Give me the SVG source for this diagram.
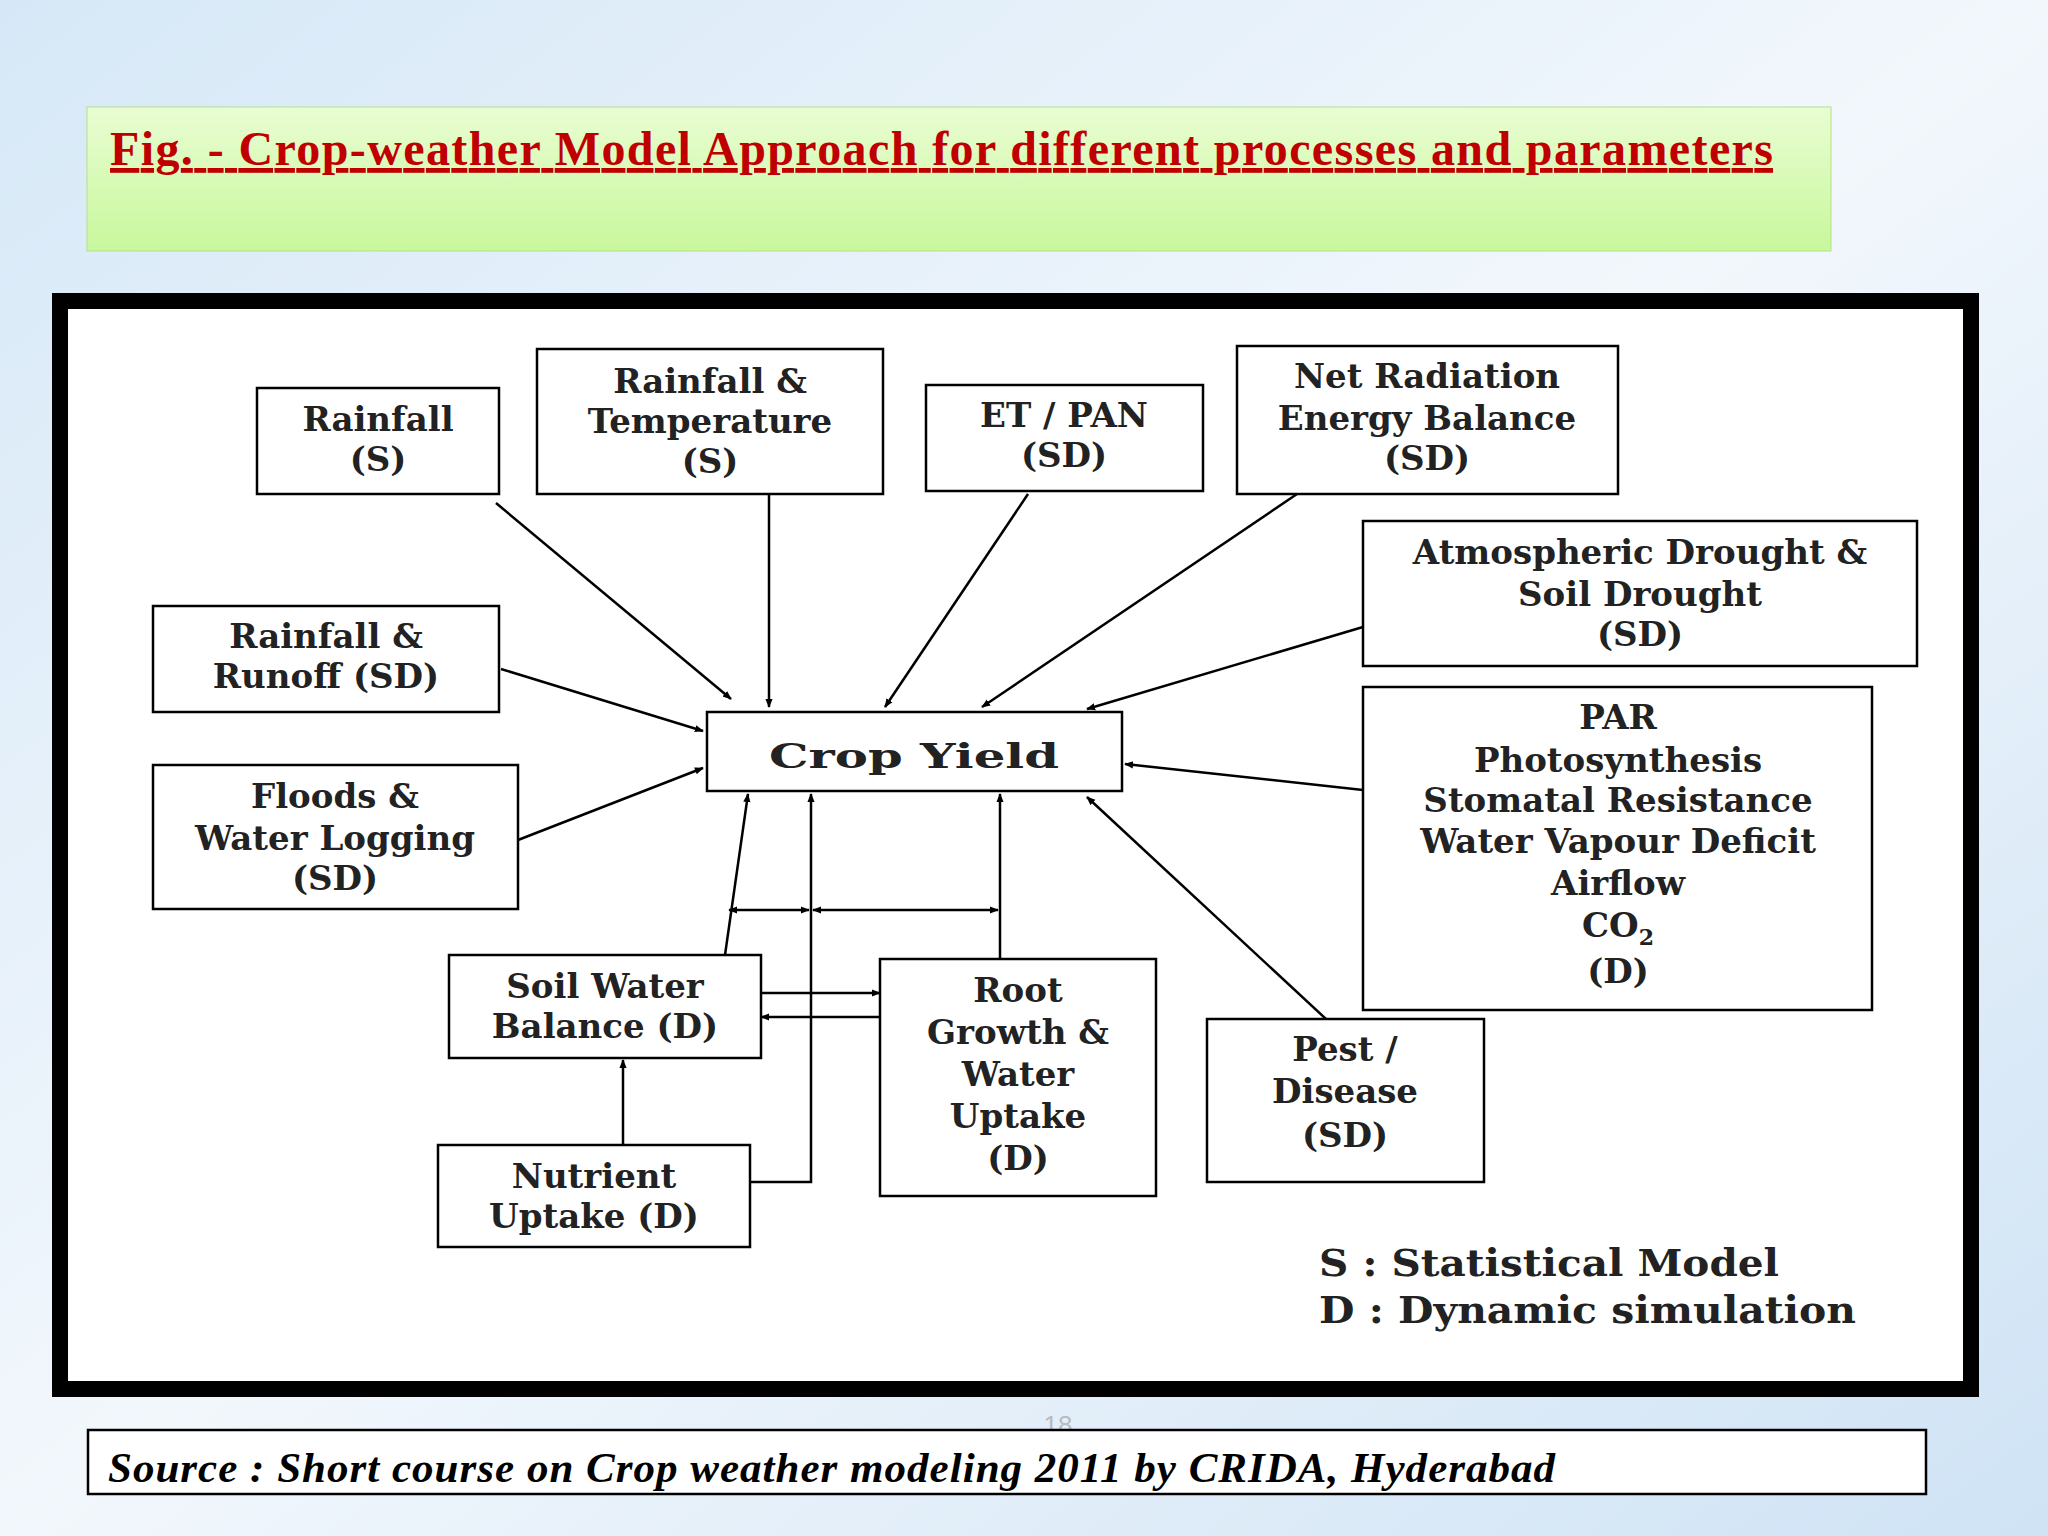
<svg xmlns="http://www.w3.org/2000/svg" width="2048" height="1536" viewBox="0 0 2048 1536">
<defs>
<linearGradient id="bg" x1="0" y1="0" x2="1" y2="1"><stop offset="0" stop-color="#d6e8f7"/><stop offset="0.5" stop-color="#f2f7fc"/><stop offset="1" stop-color="#cfe3f5"/></linearGradient>
<linearGradient id="tg" x1="0" y1="0" x2="0" y2="1"><stop offset="0" stop-color="#e9fdd2"/><stop offset="1" stop-color="#c8f79c"/></linearGradient>
<marker id="ah" viewBox="0 0 10 10" refX="9" refY="5" markerWidth="9" markerHeight="9" orient="auto-start-reverse" markerUnits="userSpaceOnUse"><path d="M0,1 L10,5 L0,9 Z" fill="#000"/></marker>
<style>
.n{fill:#fff;stroke:#000;stroke-width:2.5}
.t{font-family:"DejaVu Serif",serif;font-weight:bold;font-size:34px;text-anchor:middle;fill:#222}
.c line,.c polyline{stroke:#000;stroke-width:2.5;fill:none}
</style>
</defs>
<rect width="2048" height="1536" fill="url(#bg)"/>
<rect x="87" y="107" width="1744" height="144" fill="url(#tg)" stroke="#b5e08a"/>
<text x="110" y="165" font-family="Liberation Serif,serif" font-weight="bold" font-size="48" fill="#c00000" text-decoration="underline" textLength="1663" lengthAdjust="spacing">Fig. - Crop-weather Model Approach for different processes and  parameters</text>
<rect x="60" y="301" width="1911" height="1088" fill="#fff" stroke="#000" stroke-width="16"/>
<g id="rainfall"><rect class="n" x="257" y="388" width="242" height="106"/><text class="t" x="378" y="431">Rainfall</text><text class="t" x="378" y="471">(S)</text></g>
<g id="rt"><rect class="n" x="537" y="349" width="346" height="145"/><text class="t" x="710" y="393">Rainfall &amp;</text><text class="t" x="710" y="433">Temperature</text><text class="t" x="710" y="473">(S)</text></g>
<g id="et"><rect class="n" x="926" y="385" width="277" height="106"/><text class="t" x="1064" y="427">ET / PAN</text><text class="t" x="1064" y="467">(SD)</text></g>
<g id="net"><rect class="n" x="1237" y="346" width="381" height="148"/><text class="t" x="1427" y="388">Net Radiation</text><text class="t" x="1427" y="430">Energy Balance</text><text class="t" x="1427" y="470">(SD)</text></g>
<g id="atm"><rect class="n" x="1363" y="521" width="554" height="145"/><text class="t" x="1640" y="564">Atmospheric Drought &amp;</text><text class="t" x="1640" y="606">Soil Drought</text><text class="t" x="1640" y="646">(SD)</text></g>
<g id="runoff"><rect class="n" x="153" y="606" width="346" height="106"/><text class="t" x="326" y="648">Rainfall &amp;</text><text class="t" x="326" y="688">Runoff (SD)</text></g>
<g id="crop"><rect class="n" x="707" y="712" width="415" height="79" stroke-width="3"/><text class="t" x="914" y="768" font-size="56" textLength="290" lengthAdjust="spacingAndGlyphs">Crop Yield</text></g>
<g id="floods"><rect class="n" x="153" y="765" width="365" height="144"/><text class="t" x="335" y="808">Floods &amp;</text><text class="t" x="335" y="850">Water Logging</text><text class="t" x="335" y="890">(SD)</text></g>
<g id="par"><rect class="n" x="1363" y="687" width="509" height="323"/><text class="t" x="1618" y="729">PAR</text><text class="t" x="1618" y="772">Photosynthesis</text><text class="t" x="1618" y="812">Stomatal Resistance</text><text class="t" x="1618" y="853">Water Vapour Deficit</text><text class="t" x="1618" y="895">Airflow</text><text class="t" x="1618" y="937">CO<tspan font-size="22" dy="8">2</tspan></text><text class="t" x="1618" y="983">(D)</text></g>
<g id="swb"><rect class="n" x="449" y="955" width="312" height="103"/><text class="t" x="605" y="998">Soil Water</text><text class="t" x="605" y="1038">Balance (D)</text></g>
<g id="root"><rect class="n" x="880" y="959" width="276" height="237"/><text class="t" x="1018" y="1002">Root</text><text class="t" x="1018" y="1044">Growth &amp;</text><text class="t" x="1018" y="1086">Water</text><text class="t" x="1018" y="1128">Uptake</text><text class="t" x="1018" y="1170">(D)</text></g>
<g id="pest"><rect class="n" x="1207" y="1019" width="277" height="163"/><text class="t" x="1345" y="1061">Pest /</text><text class="t" x="1345" y="1103">Disease</text><text class="t" x="1345" y="1147">(SD)</text></g>
<g id="nutrient"><rect class="n" x="438" y="1145" width="312" height="102"/><text class="t" x="594" y="1188">Nutrient</text><text class="t" x="594" y="1228">Uptake (D)</text></g>
<g id="legend" font-family="DejaVu Serif,serif" font-weight="bold" font-size="38" fill="#222"><text x="1319" y="1276" textLength="460" lengthAdjust="spacingAndGlyphs">S : Statistical Model</text><text x="1319" y="1323" textLength="537" lengthAdjust="spacingAndGlyphs">D : Dynamic simulation</text></g>
<g class="c">
<line x1="496" y1="503" x2="731" y2="699" marker-end="url(#ah)"/>
<line x1="769" y1="494" x2="769" y2="707" marker-end="url(#ah)"/>
<line x1="1028" y1="494" x2="885" y2="707" marker-end="url(#ah)"/>
<line x1="1297" y1="494" x2="982" y2="707" marker-end="url(#ah)"/>
<line x1="1363" y1="627" x2="1087" y2="709" marker-end="url(#ah)"/>
<line x1="501" y1="669" x2="703" y2="731" marker-end="url(#ah)"/>
<line x1="518" y1="840" x2="703" y2="768" marker-end="url(#ah)"/>
<line x1="1363" y1="790" x2="1125" y2="764" marker-end="url(#ah)"/>
<line x1="1326" y1="1019" x2="1087" y2="797" marker-end="url(#ah)"/>
<line x1="725" y1="955" x2="748" y2="794" marker-end="url(#ah)"/>
<polyline points="750,1182 811,1182 811,794" marker-end="url(#ah)"/>
<line x1="1000" y1="959" x2="1000" y2="794" marker-end="url(#ah)"/>
<line x1="729" y1="910" x2="809" y2="910" marker-start="url(#ah)" marker-end="url(#ah)"/>
<line x1="813" y1="910" x2="998" y2="910" marker-start="url(#ah)" marker-end="url(#ah)"/>
<line x1="761" y1="993" x2="880" y2="993" marker-end="url(#ah)"/>
<line x1="880" y1="1017" x2="761" y2="1017" marker-end="url(#ah)"/>
<line x1="623" y1="1145" x2="623" y2="1060" marker-end="url(#ah)"/>
</g>
<text x="1058" y="1434" font-family="Liberation Sans,sans-serif" font-size="26" fill="#bbb" text-anchor="middle">18</text>
<rect x="88" y="1430" width="1838" height="64" fill="#fff" stroke="#000" stroke-width="2.5"/>
<text x="108" y="1482" font-family="Liberation Serif,serif" font-weight="bold" font-style="italic" font-size="43" fill="#000" textLength="1447" lengthAdjust="spacing">Source : Short course on Crop weather modeling 2011 by CRIDA, Hyderabad</text>
</svg>
